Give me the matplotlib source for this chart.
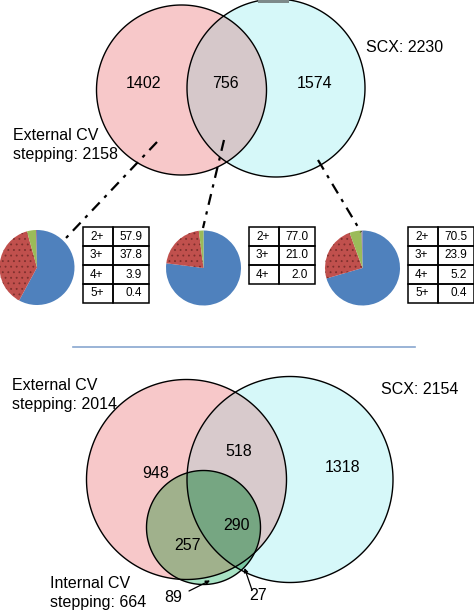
import numpy as np
import matplotlib
matplotlib.use("Agg")
import matplotlib.pyplot as plt
from matplotlib.patches import Polygon, Rectangle

plt.rcParams['font.family'] = ['Liberation Sans', 'DejaVu Sans']
plt.rcParams['hatch.linewidth'] = 0.6

# ---- data ----
top_region_counts = [1402, 756, 1574]          # ext only, both, scx only
top_ext_total = 2158
top_scx_total = 2230

charge_labels = ['2+', '3+', '4+', '5+']
pie_ext_only = [57.9, 37.8, 3.9, 0.4]
pie_overlap = [77.0, 21.0, 2.0]
pie_scx_only = [70.5, 23.9, 5.2, 0.4]
pie_colors = ['#4F81BD', '#C0504D', '#9BBB59', '#8064A2']

bot_ext_total = 2014
bot_scx_total = 2154
bot_int_total = 664
bot_ext_only = 948
bot_ext_scx = 518
bot_scx_only = 1318
bot_ext_int = 257
bot_all = 290
bot_int_only = 89
bot_int_scx = 27

pink = np.array([247, 200, 201]) / 255
cyan = np.array([214, 248, 249]) / 255
mint = np.array([168, 226, 196]) / 255
olive = np.array([160, 177, 140]) / 255     # internal & external
deep = np.array([118, 166, 130]) / 255      # all three
teal = np.array([120, 198, 162]) / 255      # internal & scx


def circ(cx, cy, r, n=400):
    t = np.linspace(0, 2 * np.pi, n, endpoint=False)
    return np.column_stack([cx + r * np.cos(t), cy + r * np.sin(t)])


def clip(subject, clipper):
    # Sutherland-Hodgman for convex polygons
    out = list(subject)
    m = len(clipper)
    for i in range(m):
        a, b = clipper[i], clipper[(i + 1) % m]
        inp, out = out, []
        if not inp:
            break

        def inside(p):
            return (b[0] - a[0]) * (p[1] - a[1]) - (b[1] - a[1]) * (p[0] - a[0]) >= 0

        def inter(p, q):
            d1 = p - q
            d2 = a - b
            den = d1[0] * d2[1] - d1[1] * d2[0]
            t = ((p[0] - a[0]) * d2[1] - (p[1] - a[1]) * d2[0]) / den
            return p - t * d1

        s = inp[-1]
        for e in inp:
            if inside(e):
                if not inside(s):
                    out.append(inter(s, e))
                out.append(e)
            elif inside(s):
                out.append(inter(s, e))
            s = e
    return np.array(out)


fig = plt.figure(figsize=(4.74, 6.12), dpi=100)
ax = fig.add_axes([0, 0, 1, 1])

# ---- top Venn ----
A = circ(181.5, 90, 85)
B = circ(276, 88, 89)
ax.add_patch(Polygon(A, closed=True, fc=pink, ec='none'))
ax.add_patch(Polygon(B, closed=True, fc=cyan, ec='none'))
ax.add_patch(Polygon(clip(A, B), closed=True, fc=pink * cyan * 1.03, ec='none'))
for c in (A, B):
    ax.add_patch(Polygon(c, closed=True, fill=False, ec='black', lw=1.0))
ax.add_patch(Rectangle((258, -2), 31, 5, fc='#7D8A8A', ec='none'))

ax.text(144, 84, str(top_region_counts[0]), ha='center', va='center', fontsize=11.5)
ax.text(225, 84, str(top_region_counts[1]), ha='center', va='center', fontsize=11.5)
ax.text(315, 84, str(top_region_counts[2]), ha='center', va='center', fontsize=11.5)
ax.text(366, 47, f'SCX: {top_scx_total}', ha='left', va='center', fontsize=11.5)
ax.text(13, 145, f'External CV\nstepping: {top_ext_total}', ha='left', va='center',
        fontsize=11.5, linespacing=1.25)

# dash-dot connectors
dd = dict(color='black', lw=1.6, dashes=(5, 3, 1.5, 3))
ax.plot([157, 66], [142, 238], **dd)
ax.plot([224, 203], [140, 228], **dd)
ax.plot([318, 361], [160, 232], **dd)

# ---- pies and tables ----
pies = [(pie_ext_only, 37, 267.5, 83), (pie_overlap, 203.5, 268, 249),
        (pie_scx_only, 362.5, 268, 408)]
for vals, cx, cy, tx in pies:
    wedges, _ = ax.pie(vals, colors=pie_colors[:len(vals)], startangle=-90,
                       counterclock=True, center=(cx, cy), radius=37.5,
                       frame=True, wedgeprops=dict(lw=0))
    wedges[1].set_hatch('...')
    wedges[1].set_edgecolor('#7E302D')
    wedges[1].set_linewidth(0)
    row_h = 19
    w1, w2 = 30, 36
    for i, v in enumerate(vals):
        y0 = 227 + i * row_h
        ax.add_patch(Rectangle((tx, y0), w1, row_h, fill=False, ec='black', lw=1.1))
        ax.add_patch(Rectangle((tx + w1, y0), w2, row_h, fill=False, ec='black', lw=1.1))
        ax.text(tx + 7, y0 + row_h / 2, charge_labels[i], ha='left', va='center',
                fontsize=8.5)
        ax.text(tx + w1 + w2 - 7, y0 + row_h / 2, f'{v:.1f}', ha='right', va='center',
                fontsize=8.5)

# separator
ax.plot([73, 415], [347, 347], color='#89A7CF', lw=1.2)

# ---- bottom Venn ----
A2 = circ(186.5, 479.5, 100)
B2 = circ(290, 479.5, 103)
C2 = circ(203.5, 527.5, 57)
ax.add_patch(Polygon(A2, closed=True, fc=pink, ec='none'))
ax.add_patch(Polygon(B2, closed=True, fc=cyan, ec='none'))
ax.add_patch(Polygon(clip(A2, B2), closed=True, fc=pink * cyan * 1.04, ec='none'))
ax.add_patch(Polygon(C2, closed=True, fc=mint, ec='none'))
ax.add_patch(Polygon(clip(C2, A2), closed=True, fc=olive, ec='none'))
ax.add_patch(Polygon(clip(C2, B2), closed=True, fc=teal, ec='none'))
ax.add_patch(Polygon(clip(clip(C2, A2), B2), closed=True, fc=deep, ec='none'))
for c in (A2, B2, C2):
    ax.add_patch(Polygon(c, closed=True, fill=False, ec='black', lw=1.0))

ax.text(156, 474, str(bot_ext_only), ha='center', va='center', fontsize=11.5)
ax.text(239, 451, str(bot_ext_scx), ha='center', va='center', fontsize=11.5)
ax.text(343, 467, str(bot_scx_only), ha='center', va='center', fontsize=11.5)
ax.text(237, 526, str(bot_all), ha='center', va='center', fontsize=11.5)
ax.text(188, 545, str(bot_ext_int), ha='center', va='center', fontsize=11.5)
ax.text(173, 597, str(bot_int_only), ha='center', va='center', fontsize=11.5)
ax.text(258, 596, str(bot_int_scx), ha='center', va='center', fontsize=11.5)

arr = dict(arrowstyle='-|>', lw=0.9, color='black', mutation_scale=6,
           shrinkA=0, shrinkB=0)
ax.annotate('', xy=(210, 580.5), xytext=(189, 591), arrowprops=arr)
ax.annotate('', xy=(244.5, 568), xytext=(252, 590), arrowprops=arr)

ax.text(12, 395, f'External CV\nstepping: {bot_ext_total}', ha='left', va='center',
        fontsize=11.5, linespacing=1.25)
ax.text(381, 390, f'SCX: {bot_scx_total}', ha='left', va='center', fontsize=11.5)
ax.text(50, 593, f'Internal CV\nstepping: {bot_int_total}', ha='left', va='center',
        fontsize=11.5, linespacing=1.25)

ax.set_xlim(0, 474)
ax.set_ylim(612, 0)
ax.set_aspect('auto')
ax.axis('off')

fig.savefig('out.png', dpi=100)
